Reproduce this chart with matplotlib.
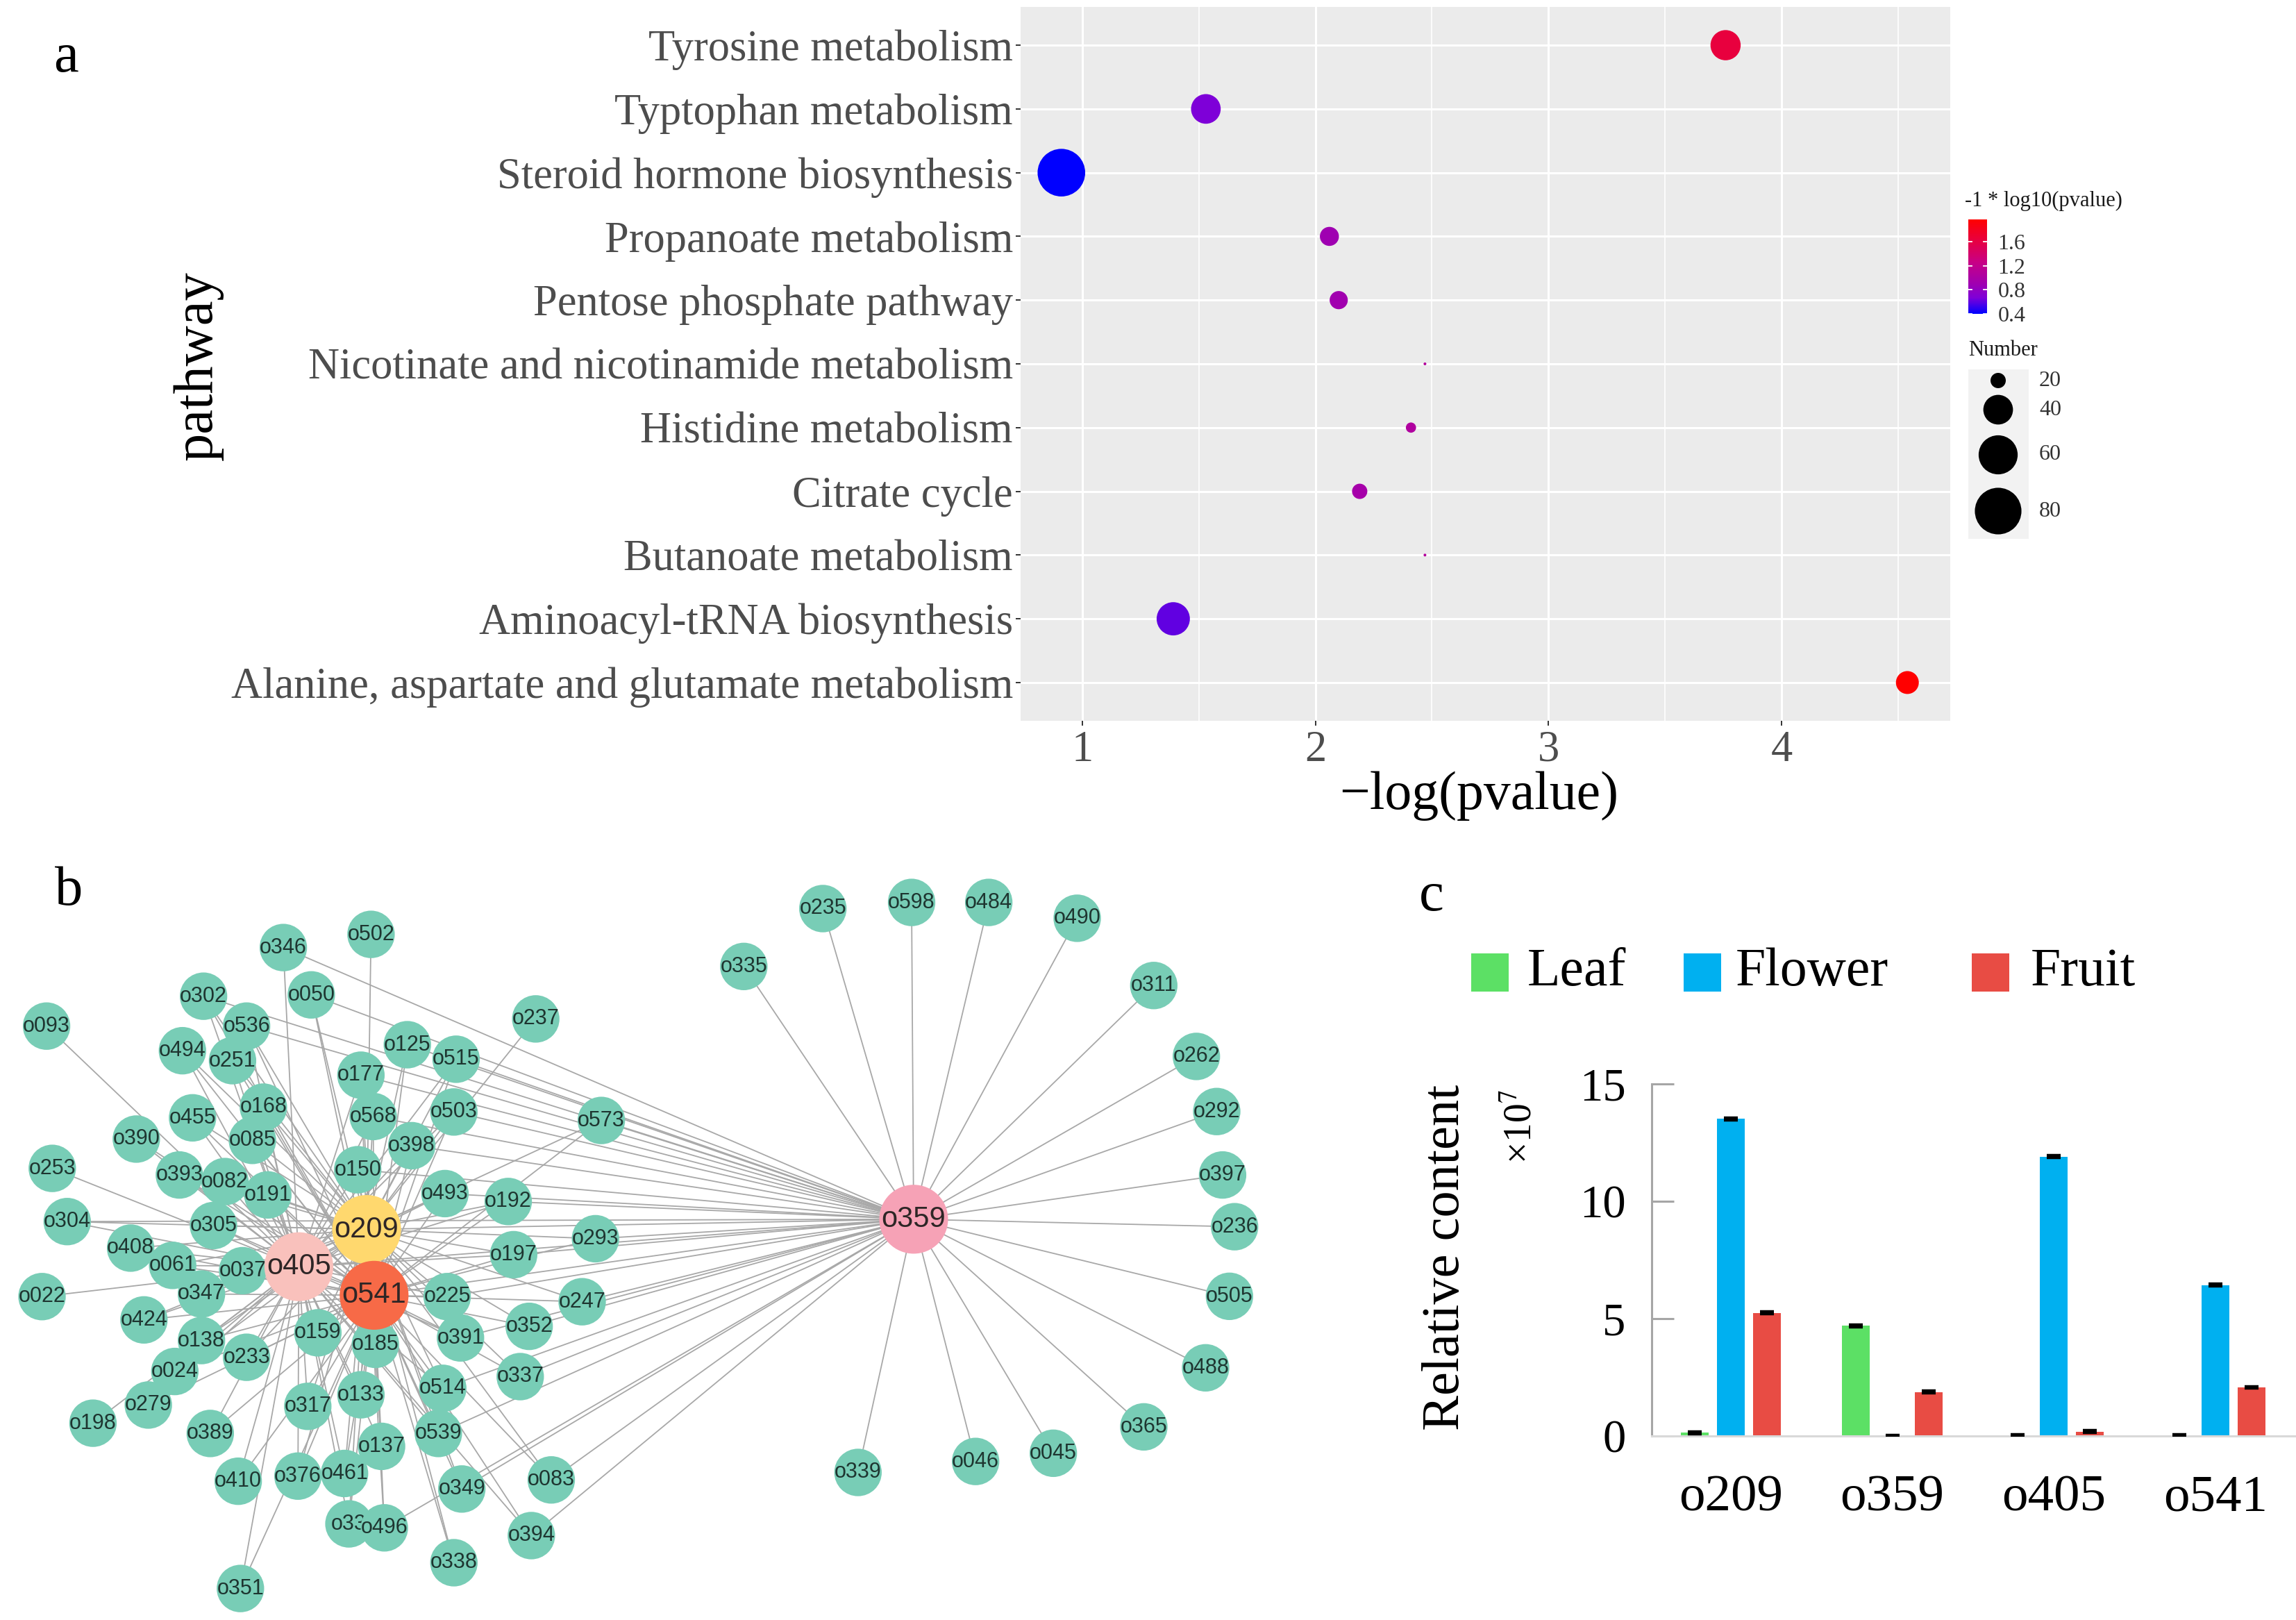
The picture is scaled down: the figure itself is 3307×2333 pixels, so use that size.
import numpy as np
import matplotlib
matplotlib.use("Agg")
import matplotlib.pyplot as plt
from matplotlib.colors import LinearSegmentedColormap, Normalize
from matplotlib.cm import ScalarMappable
from matplotlib.patches import Circle, Rectangle
from matplotlib.collections import LineCollection
import matplotlib.transforms as mtransforms

plt.rcParams['font.family'] = ['Liberation Serif', 'DejaVu Serif']
plt.rcParams['mathtext.fontset'] = 'stix'

W, H, DPI = 3307, 2333, 100

# ---------------- panel a data ----------------
pathways = ["Tyrosine metabolism", "Typtophan metabolism", "Steroid hormone biosynthesis",
            "Propanoate metabolism", "Pentose phosphate pathway",
            "Nicotinate and nicotinamide metabolism", "Histidine metabolism",
            "Citrate cycle", "Butanoate metabolism", "Aminoacyl-tRNA biosynthesis",
            "Alanine, aspartate and glutamate metabolism"]
neg_log_p = [3.76, 1.53, 0.91, 2.06, 2.10, 2.47, 2.41, 2.19, 2.47, 1.39, 4.54]
pathway_number = [41, 40, 83, 24, 23, 13, 16, 20, 13, 47, 29]
a_xticks = [1, 2, 3, 4]
number_breaks = [20, 40, 60, 80]
color_breaks = [0.4, 0.8, 1.2, 1.6]

# ---------------- panel b data (network layout) ----------------
hub_names = ["o209", "o405", "o541", "o359"]
hub_x = [250.4, 204.1, 255.5, 624.0]
hub_y = [839.5, 864.9, 884.4, 832.5]
hub_colors = ["#FFD86E", "#F9C1BC", "#F76A47", "#F6A2B6"]
hub_links = [("o209", "o405"), ("o209", "o541"), ("o405", "o541"),
             ("o209", "o359"), ("o405", "o359"), ("o541", "o359")]

node_names = ["o346", "o502", "o302", "o050", "o093", "o536", "o237", "o494", "o251", "o125",
              "o515", "o177", "o168", "o455", "o568", "o503", "o573", "o390", "o085", "o398",
              "o253", "o393", "o082", "o150", "o191", "o493", "o192", "o304", "o305", "o293",
              "o408", "o197", "o061", "o037", "o022", "o347", "o225", "o247", "o424", "o352",
              "o138", "o159", "o185", "o391", "o233", "o024", "o337", "o514", "o133", "o279",
              "o317", "o198", "o389", "o539", "o137", "o083", "o410", "o376", "o461", "o349",
              "o33", "o496", "o394", "o338", "o351",
              "o335", "o235", "o598", "o484", "o490", "o311", "o262", "o292", "o397", "o236",
              "o505", "o488", "o365", "o045", "o046", "o339"]
node_x = [193.5, 253.4, 139.0, 212.6, 31.8, 168.4, 365.9, 124.6, 158.8, 278.2,
          311.5, 246.5, 179.9, 131.5, 254.9, 310.0, 410.7, 93.1, 172.4, 281.2,
          35.7, 122.5, 153.6, 244.3, 182.9, 303.9, 347.1, 45.9, 145.8, 406.7,
          89.2, 350.8, 117.9, 165.7, 28.7, 137.6, 305.4, 397.6, 98.3, 361.4,
          137.6, 217.1, 256.4, 314.5, 168.4, 119.4, 355.3, 302.4, 246.5, 101.3,
          210.2, 63.5, 143.6, 299.4, 260.6, 376.5, 162.7, 203.5, 235.3, 315.4,
          238.3, 262.5, 362.9, 310.0, 164.2,
          508.0, 562.0, 622.6, 675.3, 735.7, 788.0, 817.1, 831.0, 835.0, 843.2,
          839.7, 823.4, 781.2, 719.4, 666.3, 586.0]
node_y = [647.1, 638.1, 680.3, 679.4, 700.7, 700.7, 695.8, 717.5, 724.3, 713.4,
          723.3, 734.2, 756.0, 763.3, 762.4, 759.3, 765.1, 777.8, 778.7, 782.3,
          797.8, 802.3, 806.8, 798.7, 815.9, 815.0, 820.4, 834.1, 836.8, 845.8,
          852.2, 856.7, 864.0, 867.6, 885.3, 883.5, 885.3, 888.8, 901.2, 905.6,
          915.3, 910.0, 917.9, 913.5, 926.7, 936.4, 939.9, 947.9, 952.3, 959.3,
          960.2, 971.7, 978.7, 978.7, 987.5, 1010.4, 1011.3, 1007.8, 1006.0, 1016.6,
          1040.4, 1043.1, 1048.4, 1066.9, 1084.5,
          660.0, 620.5, 616.3, 616.3, 627.1, 673.0, 721.4, 759.0, 802.3, 837.6,
          885.1, 933.9, 974.2, 992.2, 997.8, 1005.3]
node_links = ["405 359", "209", "209 405 541 359", "209 541 359", "405", "209 405 541 359", "209",
              "209 405 541", "209 405 541", "209 541 359",
              "209 405 541 359", "209 405 541 359", "209 405 541", "209 405 541",
              "209 405 541 359", "209 405 541 359", "209 541 359", "405 541", "209 405 541",
              "209 405 541 359",
              "405", "209 405 541", "209 405 541", "209 405 541 359", "209 405 541",
              "209 405 541 359", "209 405 541 359", "209 405 359", "209 405 541", "209 541 359",
              "209 405 541", "209 405 541 359", "209 405 541", "209 405 541", "405",
              "209 405 541", "209 405 541 359", "209 541 359", "209 405 541", "209 541 359",
              "209 405 541", "209 405 541", "209 405 541", "209 405 541 359", "209 405 541",
              "209 405 541", "209 541 359", "209 405 541 359", "209 405 541", "405 541",
              "209 405 541", "405", "405 541", "209 405 541 359", "209 405 541",
              "209 541 359", "405 541", "209 405 541", "209 405 541", "209 541 359",
              "209 405 541", "209 541 359", "405 541 359", "209 541", "405 541",
              "359", "359", "359", "359", "359", "359", "359", "359", "359", "359",
              "359", "359", "359", "359", "359", "359"]

# ---------------- panel c data ----------------
metabolites = ["o209", "o359", "o405", "o541"]
tissues = ["Leaf", "Flower", "Fruit"]
leaf = [0.15, 4.70, 0.03, 0.03]
flower = [13.51, 0.02, 11.90, 6.43]
fruit = [5.25, 1.88, 0.20, 2.08]
leaf_err = [0.04, 0.04, 0.03, 0.03]
flower_err = [0.04, 0.03, 0.04, 0.04]
fruit_err = [0.04, 0.04, 0.04, 0.04]
tissue_colors = ["#5CE065", "#00B0F0", "#E84C44"]
c_yticks = [0, 5, 10, 15]

# ---------------- helpers ----------------
fig = plt.figure(figsize=(W / DPI, H / DPI), dpi=DPI)


def rect(l, t, r, b):
    return [l / W, 1 - b / H, (r - l) / W, (b - t) / H]


def bubble_area(n):
    n = np.atleast_1d(np.asarray(n, dtype=float))
    d_px = np.sqrt(np.maximum(67.0 * n - 856.0, 16.0))
    return (d_px * 72.0 / DPI) ** 2


cmap = LinearSegmentedColormap.from_list(
    "bluered", [(0.0, "#0000FF"), (0.17, "#7F00D8"), (0.32, "#A000B0"),
                (0.55, "#C80085"), (0.78, "#E8003F"), (1.0, "#FF0000")])

# ---------------- panel a ----------------
ax_a = fig.add_axes(rect(1470, 10, 2809, 1038))
ax_a.set_facecolor("#EBEBEB")
ypos = np.arange(len(pathways))[::-1] + 1
cvals = np.array(neg_log_p) / np.log(10)
norm = Normalize(vmin=cvals.min(), vmax=cvals.max())
ax_a.set_xlim(0.735, 4.724)
ax_a.set_ylim(0.4, len(pathways) + 0.6)
ax_a.set_xticks(a_xticks)
ax_a.set_xticks([1.5, 2.5, 3.5, 4.5], minor=True)
ax_a.set_yticks(ypos)
ax_a.set_yticklabels(pathways)
ax_a.grid(True, which="major", color="white", lw=2.2)
ax_a.grid(True, which="minor", axis="x", color="white", lw=1.2)
ax_a.set_axisbelow(True)
for s in ax_a.spines.values():
    s.set_visible(False)
ax_a.tick_params(axis="both", which="major", length=5, width=1.4, color="#333333",
                 labelsize=45, labelcolor="#4D4D4D")
ax_a.tick_params(axis="y", pad=3)
ax_a.tick_params(axis="x", pad=5)
ax_a.tick_params(which="minor", length=0)
ax_a.scatter(neg_log_p, ypos, s=bubble_area(pathway_number), c=cvals, cmap=cmap,
             norm=norm, edgecolors="none", zorder=3)

# colorbar legend
ax_cb = fig.add_axes(rect(2835, 316, 2862, 452))
cb = fig.colorbar(ScalarMappable(norm=norm, cmap=cmap), cax=ax_cb)
cb.outline.set_visible(False)
cb.set_ticks(color_breaks)
cb.set_ticklabels([f"{v:.1f}" for v in color_breaks])
ax_cb.tick_params(length=0, labelsize=23, pad=11, labelcolor="#333333")
trans = mtransforms.blended_transform_factory(ax_cb.transAxes, ax_cb.transData)
for t in color_breaks:
    ax_cb.plot([0, 0.2], [t, t], color="white", lw=1.3, transform=trans)
    ax_cb.plot([0.8, 1.0], [t, t], color="white", lw=1.3, transform=trans)

# ---------------- panel b ----------------
ax_b = fig.add_axes(rect(0, 1223, 1898, 2333))
ax_b.set_xlim(0, 900)
ax_b.set_ylim(1106, 580)
ax_b.axis("off")
hub_pos = {n: (x, y) for n, x, y in zip(hub_names, hub_x, hub_y)}
segs = []
for nm, x, y, lk in zip(node_names, node_x, node_y, node_links):
    for h in lk.split():
        hx, hy = hub_pos["o" + h]
        segs.append([(x, y), (hx, hy)])
for a, b in hub_links:
    segs.append([hub_pos[a], hub_pos[b]])
ax_b.add_collection(LineCollection(segs, colors="#A8A8A8", linewidths=1.3, zorder=1))
z = 2
for nm, x, y in zip(node_names, node_x, node_y):
    ax_b.add_patch(Circle((x, y), 16.2, facecolor="#78CDB6", edgecolor="none", zorder=z))
    ax_b.text(x, y, nm, ha="center", va="center", fontsize=22, color="#1E3530",
              family=["Liberation Sans", "DejaVu Sans"], zorder=z + 0.5)
    z += 1
hub_order = ["o405", "o209", "o541", "o359"]
for nm in hub_order:
    x, y = hub_pos[nm]
    col = hub_colors[hub_names.index(nm)]
    ax_b.add_patch(Circle((x, y), 23.5, facecolor=col, edgecolor="none", zorder=z))
    ax_b.text(x, y, nm, ha="center", va="center", fontsize=30, color="#2E2626",
              family=["Liberation Sans", "DejaVu Sans"], zorder=z + 0.5)
    z += 1

# ---------------- panel c ----------------
ax_c = fig.add_axes(rect(2379, 1560.8, 3307, 2068.4))
xg = np.arange(len(metabolites))
off = 0.224
bw = 0.172
for vals, errs, col, k in zip([leaf, flower, fruit], [leaf_err, flower_err, fruit_err],
                              tissue_colors, [-1, 0, 1]):
    ax_c.bar(xg + k * off, vals, width=bw, color=col, zorder=2)
    ax_c.errorbar(xg + k * off, vals, yerr=errs, fmt="none", ecolor="black",
                  elinewidth=2, capsize=7, capthick=3.2, zorder=3)
ax_c.set_xlim(-0.49, 3.5)
ax_c.set_ylim(0, 15)
ax_c.set_yticks(c_yticks)
ax_c.set_xticks(xg)
ax_c.set_xticklabels(metabolites)
ax_c.spines["top"].set_visible(False)
ax_c.spines["right"].set_visible(False)
ax_c.spines["left"].set_color("#A6A6A6")
ax_c.spines["left"].set_linewidth(2.2)
ax_c.spines["bottom"].set_color("#D9D9D9")
ax_c.spines["bottom"].set_linewidth(2.2)
ax_c.tick_params(axis="y", direction="in", length=23, width=2.2, color="#A6A6A6",
                 labelsize=48, pad=27)
ax_c.tick_params(axis="x", length=0, labelsize=54, pad=40)
ax_c.set_facecolor("none")

# ---------------- overlay: labels & legends ----------------
ax_o = fig.add_axes([0, 0, 1, 1])
ax_o.set_xlim(0, W)
ax_o.set_ylim(H, 0)
ax_o.axis("off")

ax_o.text(95, 84, "a", fontsize=58, ha="center", va="center")
ax_o.text(99, 1284, "b", fontsize=58, ha="center", va="center")
ax_o.text(2062, 1291, "c", fontsize=58, ha="center", va="center")

ax_o.text(2130, 1146, "\u2212log(pvalue)", fontsize=56, ha="center", va="center")
ax_o.text(285, 527, "pathway", fontsize=58, ha="center", va="center", rotation=90)

# colour legend title
ax_o.text(2830, 289, "-1 * log10(pvalue)", fontsize=22, ha="left", va="center", color="#1A1A1A")
# size legend
ax_o.text(2835, 504, "Number", fontsize=22, ha="left", va="center", color="#1A1A1A")
ax_o.add_patch(Rectangle((2835, 532), 87, 244, facecolor="#F2F2F2", edgecolor="none"))
leg_y = [548, 590, 655, 736]
ax_o.scatter([2878] * len(number_breaks), leg_y, s=bubble_area(number_breaks),
             c="black", edgecolors="none", zorder=3)
for v, yy in zip(number_breaks, leg_y):
    ax_o.text(2937, yy, str(v), fontsize=23, ha="left", va="center", color="#333333")

# panel c legend
for lbl, col, sx, tx in zip(tissues, tissue_colors, [2119, 2425, 2840], [2200, 2500, 2925]):
    ax_o.add_patch(Rectangle((sx, 1373), 54, 55, facecolor=col, edgecolor="none"))
    ax_o.text(tx, 1400, lbl, fontsize=56, ha="left", va="center")

ax_o.text(2083, 1811, "Relative content", fontsize=55, ha="center", va="center", rotation=90)
ax_o.text(2192, 1622, "\u00d710$^{7}$", fontsize=40, ha="center", va="center", rotation=90)

fig.savefig("out.png", dpi=DPI)
